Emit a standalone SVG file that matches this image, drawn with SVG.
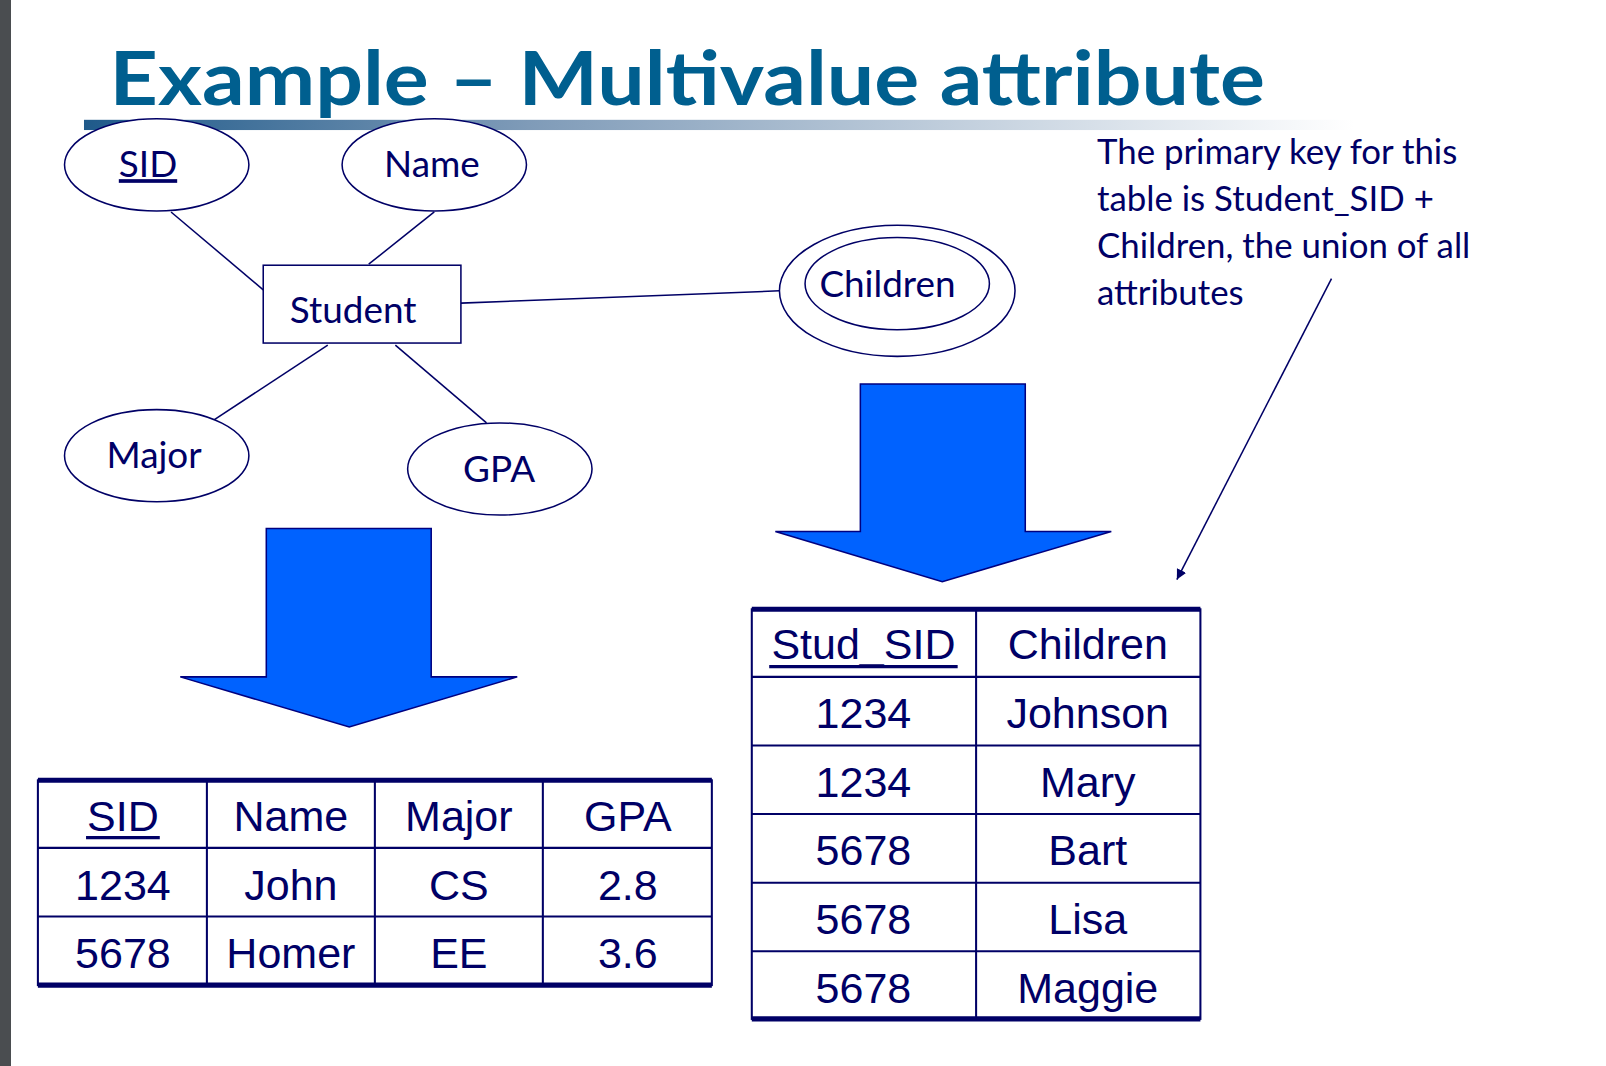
<svg xmlns="http://www.w3.org/2000/svg" width="1606" height="1066" viewBox="0 0 1606 1066">
<style>
.er{fill:#fff;stroke:#000066;stroke-width:1.5}
.ln{stroke:#000066;stroke-width:1.5;fill:none}
.t{font-family:Lato,"Open Sans",sans-serif;font-size:36px;fill:#000066}
.tb{font-family:"Liberation Sans",Arial,sans-serif;font-size:42px;fill:#000066;text-anchor:middle}
.arr{fill:#0062ff;stroke:#000080;stroke-width:1.5}
.grid{stroke:#000066;stroke-width:2;fill:none}
</style>
<defs>
<linearGradient id="bar" x1="0" x2="1"><stop offset="0" stop-color="#1f5a8a"/><stop offset="0.35" stop-color="#7f9bb8"/><stop offset="1" stop-color="#fff"/></linearGradient>
<marker id="ah" markerWidth="12" markerHeight="12" refX="10" refY="5" orient="auto" markerUnits="userSpaceOnUse"><path d="M0,0 L10,5 L0,10 z" fill="#000066"/></marker>
</defs>
<rect width="1606" height="1066" fill="#fff"/>
<rect x="0" y="0" width="11" height="1066" fill="#4a4d50"/>
<g transform="scale(1.02424 1.02402)">
<rect x="82" y="117" width="1240" height="10" fill="url(#bar)"/>
<text x="107" y="103" font-family="Lato,'Open Sans',sans-serif" font-weight="bold" font-size="72" fill="#005f8f" textLength="1128" lengthAdjust="spacingAndGlyphs">Example – Multivalue attribute</text>
<g id="connectors">
<line class="ln" x1="167" y1="207" x2="257" y2="283"/>
<line class="ln" x1="424" y1="207" x2="360" y2="258"/>
<line class="ln" x1="450" y1="296" x2="761" y2="284"/>
<line class="ln" x1="320" y1="337" x2="206" y2="412"/>
<line class="ln" x1="386" y1="337" x2="475" y2="413"/>
<line class="ln" x1="1300" y1="272" x2="1149" y2="566" marker-end="url(#ah)"/>
</g>
<g id="sid"><ellipse class="er" cx="153" cy="161" rx="90" ry="45"/><text class="t" x="116" y="173" text-decoration="underline">SID</text></g>
<g id="name"><ellipse class="er" cx="424" cy="161" rx="90" ry="45"/><text class="t" x="375" y="173">Name</text></g>
<g id="student"><rect class="er" x="257" y="259" width="193" height="76"/><text class="t" x="283" y="315">Student</text></g>
<g id="children"><ellipse class="er" cx="876" cy="284" rx="115" ry="64"/><ellipse class="er" cx="876" cy="277" rx="90" ry="45"/><text class="t" x="800" y="290">Children</text></g>
<g id="major"><ellipse class="er" cx="153" cy="445" rx="90" ry="45"/><text class="t" x="104" y="457">Major</text></g>
<g id="gpa"><ellipse class="er" cx="488" cy="458" rx="90" ry="45"/><text class="t" x="452" y="471">GPA</text></g>
<g id="note" class="t" style="font-size:34px">
<text x="1071" y="160">The primary key for this</text>
<text x="1071" y="206">table is Student_SID +</text>
<text x="1071" y="252">Children, the union of all</text>
<text x="1071" y="298">attributes</text>
</g>
<g id="arrow-left"><path class="arr" d="M260,516 H421 V661 H505 L341,710 L176,661 H260 Z"/></g>
<g id="arrow-right"><path class="arr" d="M840,375 H1001 V519 H1085 L920,568 L757,519 H840 Z"/></g>
<g id="table-student">
<rect class="grid" x="37" y="762" width="658" height="200"/>
<line x1="37" y1="762" x2="695" y2="762" stroke="#000066" stroke-width="5"/>
<line x1="37" y1="962" x2="695" y2="962" stroke="#000066" stroke-width="5"/>
<path class="grid" d="M202,762V962M366,762V962M530,762V962M37,828H695M37,895H695"/>
<g class="tb">
<text x="120" y="812">SID</text><text x="284" y="812">Name</text><text x="448" y="812">Major</text><text x="613" y="812">GPA</text>
<text x="120" y="879">1234</text><text x="284" y="879">John</text><text x="448" y="879">CS</text><text x="613" y="879">2.8</text>
<text x="120" y="945">5678</text><text x="284" y="945">Homer</text><text x="448" y="945">EE</text><text x="613" y="945">3.6</text>
</g>
<line x1="84" y1="818" x2="156" y2="818" stroke="#000066" stroke-width="3"/>
</g>
<g id="table-children">
<rect class="grid" x="734" y="595" width="438" height="400"/>
<line x1="734" y1="595" x2="1172" y2="595" stroke="#000066" stroke-width="5"/>
<line x1="734" y1="995" x2="1172" y2="995" stroke="#000066" stroke-width="5"/>
<path class="grid" d="M953,595V995M734,661H1172M734,728H1172M734,795H1172M734,862H1172M734,929H1172"/>
<g class="tb">
<text x="843" y="644">Stud_SID</text><text x="1062" y="644">Children</text>
<text x="843" y="711">1234</text><text x="1062" y="711">Johnson</text>
<text x="843" y="778">1234</text><text x="1062" y="778">Mary</text>
<text x="843" y="845">5678</text><text x="1062" y="845">Bart</text>
<text x="843" y="912">5678</text><text x="1062" y="912">Lisa</text>
<text x="843" y="979">5678</text><text x="1062" y="979">Maggie</text>
</g>
<line x1="751" y1="651" x2="935" y2="651" stroke="#000066" stroke-width="3"/>
</g>
</g>
</svg>
